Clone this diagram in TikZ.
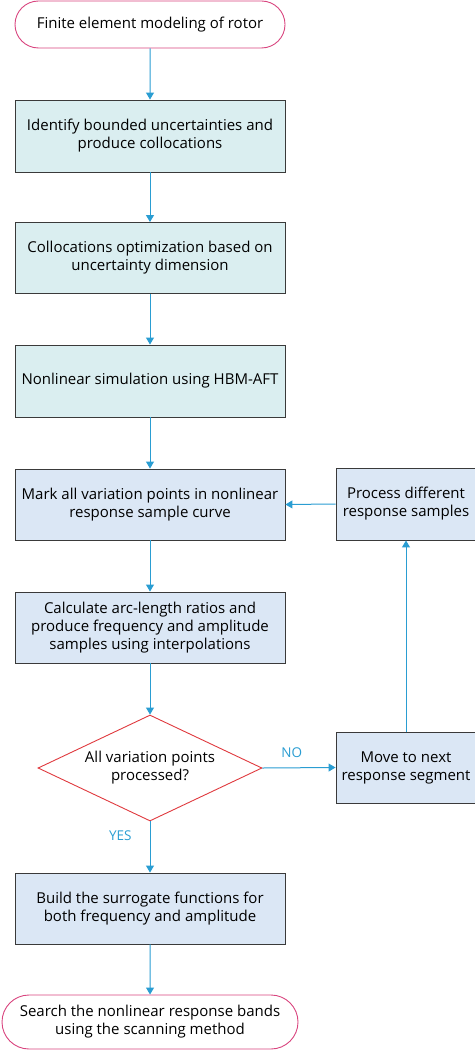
\documentclass[tikz,border=0pt]{standalone}
\usepackage{fontspec}
\setmainfont{Open Sans}
\usetikzlibrary{shapes.geometric,shapes.misc,arrows.meta}
\definecolor{pinkline}{HTML}{D9457F}
\definecolor{cyanfill}{HTML}{DAEEF0}
\definecolor{bluefill}{HTML}{DBE7F5}
\definecolor{boxline}{HTML}{3A3A3A}
\definecolor{arrowc}{HTML}{2A9DD2}
\definecolor{dialine}{HTML}{E0393E}
\tikzset{
  txt/.style={font=\fontsize{15}{18}\selectfont, align=center, text=black, inner sep=0pt},
  term/.style={txt, draw=pinkline, line width=0.9pt, fill=white, rounded rectangle},
  cbox/.style={txt, draw=boxline, line width=0.9pt, fill=cyanfill, rectangle},
  bbox/.style={txt, draw=boxline, line width=0.9pt, fill=bluefill, rectangle},
  dia/.style={txt, draw=dialine, line width=0.9pt, fill=white, diamond},
  flow/.style={draw=arrowc, line width=1pt, -{Triangle[length=7pt,width=8pt]}},
  lbl/.style={font=\fontsize{13.5}{15}\selectfont, text=arrowc, inner sep=0pt}
}
\begin{document}
\begin{tikzpicture}[x=1pt,y=-1pt]
\useasboundingbox (0,0) rectangle (474,1051);
\node[term, minimum width=270pt, minimum height=47pt] (start) at (150,24.5) {Finite element modeling of rotor};
\node[cbox, minimum width=270pt, minimum height=72pt] (b1) at (150,136) {Identify bounded uncertainties and\\produce collocations};
\node[cbox, minimum width=270pt, minimum height=71pt] (b2) at (150,258) {Collocations optimization based on\\uncertainty dimension};
\node[cbox, minimum width=270pt, minimum height=72pt] (b3) at (150,381) {Nonlinear simulation using HBM-AFT};
\node[bbox, minimum width=270pt, minimum height=71pt] (mark) at (150,504.5) {Mark all variation points in nonlinear\\response sample curve};
\node[bbox, minimum width=140pt, minimum height=72pt] (proc) at (406,504) {Process different\\response samples};
\node[bbox, minimum width=270pt, minimum height=71pt] (calc) at (150,627.5) {Calculate arc-length ratios and\\produce frequency and amplitude\\samples using interpolations};
\node[dia, minimum width=224pt, minimum height=106pt, aspect=2.1] (dec) at (150,768) {};
\node[txt] (dect) at (150,768) {All variation points\\processed?};
\node[bbox, minimum width=140pt, minimum height=71pt] (move) at (406,767.5) {Move to next\\response segment};
\node[bbox, minimum width=270pt, minimum height=71pt] (build) at (150,908.5) {Build the surrogate functions for\\both frequency and amplitude};
\node[term, minimum width=296pt, minimum height=54pt] (fin) at (150,1022) {Search the nonlinear response bands\\using the scanning method};
\draw[flow] (start) -- (b1);
\draw[flow] (b1) -- (b2);
\draw[flow] (b2) -- (b3);
\draw[flow] (b3) -- (mark);
\draw[flow] (mark) -- (calc);
\draw[flow] (calc) -- (dec);
\draw[flow] (dec.south) -- node[lbl, pos=0.28, left=18pt] (yes) {YES} (build.north);
\draw[flow] (dec.east) -- node[lbl, above=10pt, pos=0.4] (no) {NO} (move.west);
\draw[flow] (move.north) -- (proc.south);
\draw[flow] (proc.west) -- (mark.east);
\draw[flow] (build) -- (fin);
\end{tikzpicture}
\end{document}
